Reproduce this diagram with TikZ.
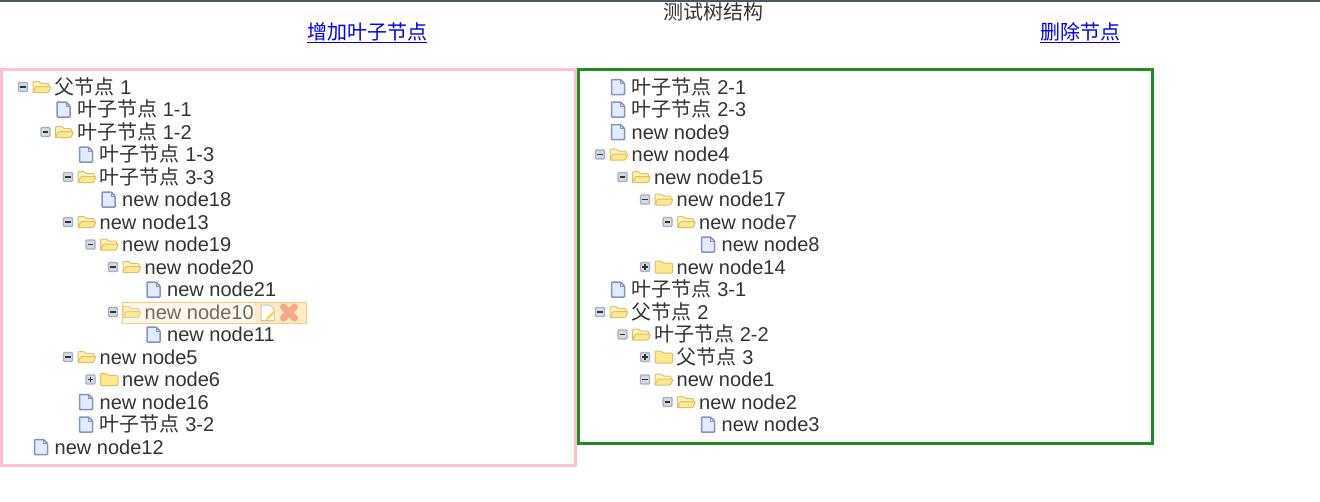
\documentclass[tikz,border=0pt]{standalone}
\usepackage{fontspec}
\setmainfont{Liberation Sans}
\newfontfamily\cjk{Noto Sans CJK SC}
\definecolor{txt}{HTML}{333333}
\definecolor{pinkb}{HTML}{FFC0CB}
\definecolor{greenb}{HTML}{228B22}
\definecolor{linkc}{HTML}{0000EE}
\definecolor{topline}{HTML}{4A5866}
\definecolor{leafb}{HTML}{8492C4}
\definecolor{leaff}{HTML}{E2ECFF}
\definecolor{foldb}{HTML}{DDBE6A}
\definecolor{foldf}{HTML}{FFE88E}
\definecolor{foldt}{HTML}{FFF3BC}
\definecolor{expb}{HTML}{9FB0C4}
\definecolor{expf}{HTML}{D6DADF}
\definecolor{selb}{HTML}{FFC77E}
\definecolor{self}{HTML}{FFEBC8}
\definecolor{delc}{HTML}{F4A98A}
\tikzset{
  x=1pt,y=-1pt,
  label text/.style={anchor=base west,inner sep=0pt,text=txt,font=\fontsize{20}{24}\selectfont},
  title text/.style={anchor=base,inner sep=0pt,text=txt,font=\cjk\fontsize{20}{24}\selectfont},
  link text/.style={anchor=base,inner sep=0pt,text=linkc,font=\cjk\fontsize{20}{24}\selectfont},
  panel pink/.style={draw=pinkb,line width=3pt},
  panel green/.style={draw=greenb,line width=3pt},
  leaficon/.pic={
    \draw[draw=leafb,line width=1.5pt,fill=leaff,rounded corners=0.8pt]
      (-6.5,-7.5) -- (2.5,-7.5) -- (6.5,-3.5) -- (6.5,7.5) -- (-6.5,7.5) -- cycle;
    \draw[draw=leafb,line width=0.7pt] (2.5,-7.5) -- (2.5,-3.5) -- (6.5,-3.5);
  },
  folderopen/.pic={
    \draw[draw=foldb,line width=1pt,fill=foldt,rounded corners=1pt]
      (-9,5.5) -- (-9,-5.5) -- (-3,-5.5) -- (-1,-3.5) -- (7,-3.5) -- (7,1) -- (-9,5.5);
    \draw[draw=foldb,line width=1pt,fill=foldf,rounded corners=1pt]
      (-9,5.5) -- (-6,-0.5) -- (9,-0.5) -- (6.5,5.5) -- cycle;
  },
  folderclosed/.pic={
    \draw[draw=foldb,line width=1pt,fill=foldf,rounded corners=1pt]
      (-9,6) -- (-9,-6) -- (-3,-6) -- (-1,-4) -- (8.5,-4) -- (8.5,6) -- cycle;
  },
  expminus/.pic={
    \draw[draw=expb,line width=1.2pt,fill=expf,rounded corners=1pt] (-4.5,-4.5) rectangle (4.5,4.5);
    \draw[draw=black!80,line width=1.2pt] (-2.8,0) -- (2.8,0);
  },
  expplus/.pic={
    \draw[draw=expb,line width=1.2pt,fill=expf,rounded corners=1pt] (-4.5,-4.5) rectangle (4.5,4.5);
    \draw[draw=black!80,line width=1.1pt] (-2.8,0) -- (2.8,0) (0,-2.8) -- (0,2.8);
  },
  editicon/.pic={
    \draw[draw=gray!45,line width=1pt,fill=white] (-7,-7.5) -- (2,-7.5) -- (6,-3.5) -- (6,8) -- (-7,8) -- cycle;
    \draw[draw=orange!45!yellow!70,line width=2.2pt] (-1.5,7) -- (6.5,-1);
  },
  removeicon/.pic={
    \draw[draw=delc,line width=7pt,line cap=round] (-5.5,-5.5) -- (5.5,5.5) (-5.5,5.5) -- (5.5,-5.5);
  }
}
% name, text-x, row-centre-y, text
\newcommand{\leafrow}[4]{%
  \pic at (#2-13.5,#3) {leaficon};
  \node[label text] (#1) at (#2,#3+7) {#4};}
\newcommand{\openrow}[4]{%
  \pic at (#2-12.5,#3) {folderopen};
  \pic at (#2-31.5,#3) {expminus};
  \node[label text] (#1) at (#2,#3+7) {#4};}
\newcommand{\closedrow}[4]{%
  \pic at (#2-12.5,#3) {folderclosed};
  \pic at (#2-31.5,#3) {expplus};
  \node[label text] (#1) at (#2,#3+7) {#4};}
\newcommand{\zh}[1]{{\cjk #1}}
\begin{document}
\begin{tikzpicture}
\useasboundingbox (0,0) rectangle (1320,501);
\fill[white] (0,0) rectangle (1320,501);
\fill[topline] (0,0) rectangle (1320,1.5);
\node[title text] (title) at (713.5,19) {测试树结构};
\node[link text] (addlink) at (367,39) {\underline{增加叶子节点}};
\node[link text] (dellink) at (1080,39) {\underline{删除节点}};
\draw[panel pink] (1.5,69.5) rectangle (575.5,465.5);
\draw[panel green] (578.5,69.5) rectangle (1152.5,443.5);
% left tree
\openrow{La}{54.5}{87}{\zh{父节点} 1}
\leafrow{Lb}{77}{109.5}{\zh{叶子节点} 1-1}
\openrow{Lc}{77}{132}{\zh{叶子节点} 1-2}
\leafrow{Ld}{99.5}{154.5}{\zh{叶子节点} 1-3}
\openrow{Le}{99.5}{177}{\zh{叶子节点} 3-3}
\leafrow{Lf}{122}{199.5}{new node18}
\openrow{Lg}{99.5}{222}{new node13}
\openrow{Lh}{122}{244.5}{new node19}
\openrow{Li}{144.5}{267}{new node20}
\leafrow{Lj}{167}{289.5}{new node21}
\openrow{Lk}{144.5}{312}{new node10}
\fill[self,opacity=.3] (122.5,302) rectangle (306.5,323.5);
\fill[self] (255,302) rectangle (306.5,323.5);
\draw[draw=selb,line width=1pt] (122.5,302) rectangle (306.5,323.5);
\pic at (268,312.5) {editicon};
\pic at (289,312.5) {removeicon};
\leafrow{Ll}{167}{334.5}{new node11}
\openrow{Lm}{99.5}{357}{new node5}
\closedrow{Ln}{122}{379.5}{new node6}
\leafrow{Lo}{99.5}{402}{new node16}
\leafrow{Lp}{99.5}{424.5}{\zh{叶子节点} 3-2}
\leafrow{Lq}{54.5}{447}{new node12}
% right tree
\leafrow{Ra}{631.5}{87}{\zh{叶子节点} 2-1}
\leafrow{Rb}{631.5}{109.5}{\zh{叶子节点} 2-3}
\leafrow{Rc}{631.5}{132}{new node9}
\openrow{Rd}{631.5}{154.5}{new node4}
\openrow{Re}{654}{177}{new node15}
\openrow{Rf}{676.5}{199.5}{new node17}
\openrow{Rg}{699}{222}{new node7}
\leafrow{Rh}{721.5}{244.5}{new node8}
\closedrow{Ri}{676.5}{267}{new node14}
\leafrow{Rj}{631.5}{289.5}{\zh{叶子节点} 3-1}
\openrow{Rk}{631.5}{312}{\zh{父节点} 2}
\openrow{Rl}{654}{334.5}{\zh{叶子节点} 2-2}
\closedrow{Rm}{676.5}{357}{\zh{父节点} 3}
\openrow{Rn}{676.5}{379.5}{new node1}
\openrow{Ro}{699}{402}{new node2}
\leafrow{Rp}{721.5}{424.5}{new node3}
\end{tikzpicture}
\end{document}
